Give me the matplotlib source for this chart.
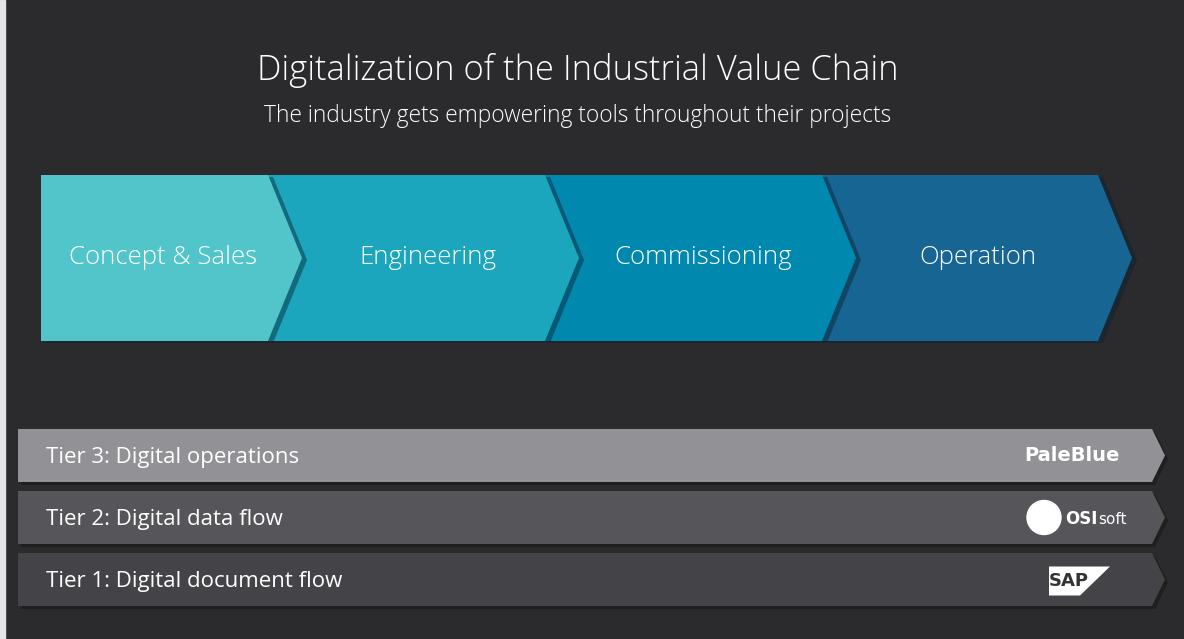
import matplotlib.pyplot as plt
from matplotlib.patches import Polygon, Circle

plt.rcParams['font.family'] = ['Open Sans', 'DejaVu Sans']

title = "Digitalization of the Industrial Value Chain"
subtitle = "The industry gets empowering tools throughout their projects"

stages = ["Concept & Sales", "Engineering", "Commissioning", "Operation"]
stage_colors = ["#52c5cb", "#1ba6bd", "#0088ae", "#176593"]
stage_edges = [41, 268, 545, 822, 1098]
stage_label_x = [163, 428, 703, 978]

tiers = ["Tier 3: Digital operations", "Tier 2: Digital data flow", "Tier 1: Digital document flow"]
tier_colors = ["#929296", "#55555a", "#444448"]
logos = ["PaleBlue", "OSIsoft", "SAP"]

W, H = 1184, 639
fig = plt.figure(figsize=(W / 100, H / 100), dpi=100)
fig.patch.set_facecolor("#2b2b2d")
ax = fig.add_axes([0, 0, 1, 1])
ax.set_xlim(0, W)
ax.set_ylim(H, 0)
ax.axis("off")

# light strip at left edge
ax.add_patch(Polygon([(0, 0), (5, 0), (5, H), (0, H)], closed=True, color="#e6e6e6"))

ax.text(578, 70, title, color="white", fontsize=24.8, fontweight="light", ha="center", va="center")
ax.text(578, 116, subtitle, color="white", fontsize=16.4, fontweight="light", ha="center", va="center")

# chevrons, drawn right to left so each tip lies over the next one
tip = 34
top, bot = 175, 341
mid = (top + bot) / 2
for i in reversed(range(len(stages))):
    left, right = stage_edges[i], stage_edges[i + 1]
    pts = [(left, top), (right, top), (right + tip, mid), (right, bot), (left, bot)]
    sh = [(x + 5, y + 2) for x, y in pts]
    ax.add_patch(Polygon(sh, closed=True, color="#0a2030", alpha=0.45, lw=0))
    ax.add_patch(Polygon(pts, closed=True, color=stage_colors[i], lw=0))
    ax.text(stage_label_x[i], mid - 1, stages[i], color="white", fontsize=18.5,
            fontweight="light", ha="center", va="center")

# tiers
tier_top = [429, 491, 553]
th = 53
for i, name in enumerate(tiers):
    t = tier_top[i]
    pts = [(18, t), (1152, t), (1165, t + th / 2), (1152, t + th), (18, t + th)]
    ax.add_patch(Polygon([(x + 3, y + 3) for x, y in pts], closed=True, color="#151515", alpha=0.5, lw=0))
    ax.add_patch(Polygon(pts, closed=True, color=tier_colors[i], lw=0))
    yc = t + th / 2
    ax.text(46, yc + 2, name, color="white", fontsize=16, ha="left", va="center")
    if logos[i] == "PaleBlue":
        ax.text(1120, yc, "PaleBlue", color="white", fontsize=14, fontweight="bold",
                ha="right", va="center", family=["DejaVu Sans"])
    elif logos[i] == "OSIsoft":
        ax.add_patch(Circle((1044, yc), 17, color="white"))
        ax.text(1065, yc + 7, "OSI", color="white", fontsize=12, fontweight="bold", ha="left",
                va="baseline", family=["DejaVu Sans"])
        ax.text(1098, yc + 7, "soft", color="white", fontsize=11, ha="left", va="baseline",
                family=["DejaVu Sans"])
    else:
        ax.add_patch(Polygon([(1049, yc - 13), (1110, yc - 13), (1080, yc + 16), (1049, yc + 16)],
                             closed=True, color="white", lw=0))
        ax.text(1069, yc + 1, "SAP", color="#333333", fontsize=13, fontweight="bold",
                ha="center", va="center", family=["DejaVu Sans"])

fig.savefig("out.png", dpi=100, facecolor=fig.get_facecolor())
